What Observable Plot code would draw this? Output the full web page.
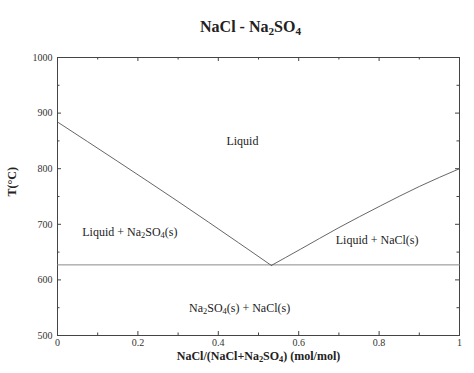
<!DOCTYPE html>
<html>
<head>
<meta charset="utf-8">
<script src="https://cdn.jsdelivr.net/npm/d3@7"></script>
<script src="https://cdn.jsdelivr.net/npm/@observablehq/plot@0.6"></script>
<style>
  html, body { margin: 0; padding: 0; background: #fff; }
  #chart { width: 474px; height: 373px; }
</style>
</head>
<body>
<div id="chart"></div>
<script>
// ---- data ----
const leftLiquidusX = [0, 0.15, 0.3, 0.45, 0.532];
const leftLiquidusT = [884, 813, 741, 667, 626];
const rightLiquidusX = [0.532, 0.604, 0.7, 0.803, 0.9, 1];
const rightLiquidusT = [626, 655, 694, 733, 768, 800];
const eutecticX = [0, 1];
const eutecticT = [627, 627];

const regionLabels = ["Liquid", "Liquid + Na₂SO₄(s)", "Liquid + NaCl(s)", "Na₂SO₄(s) + NaCl(s)"];
const regionX = [0.46, 0.18, 0.795, 0.453];
const regionT = [849, 686, 671, 549];

const xMajor = [0, 0.2, 0.4, 0.6, 0.8, 1];
const xMinor = [0.1, 0.3, 0.5, 0.7, 0.9];
const yMajor = [500, 600, 700, 800, 900, 1000];
const yMinor = [550, 650, 750, 850, 950];

const title = "NaCl - Na₂SO₄";
const xLabel = "NaCl/(NaCl+Na₂SO₄) (mol/mol)";
const yLabel = "T(°C)";

// ---- build ----
const W = 474, H = 373, mL = 57, mR = 15, mT = 57, mB = 38;
const fw = W - mL - mR, fh = H - mT - mB;
const toPts = (xs, ts) => xs.map((x, i) => ({x, t: ts[i]}));
const axisColor = "#444";

const chart = Plot.plot({
  width: W, height: H,
  marginLeft: mL, marginRight: mR, marginTop: mT, marginBottom: mB,
  style: {fontFamily: "'Liberation Serif', 'Times New Roman', serif", fontSize: "10px", color: "#333", background: "#fff"},
  x: {domain: [0, 1]},
  y: {domain: [500, 1000]},
  marks: [
    Plot.frame({stroke: axisColor, strokeWidth: 1}),
    // inward ticks, all four sides
    Plot.tickX(xMajor, {x: d => d, insetTop: fh - 4, stroke: axisColor}),
    Plot.tickX(xMajor, {x: d => d, insetBottom: fh - 4, stroke: axisColor}),
    Plot.tickX(xMinor, {x: d => d, insetTop: fh - 2.5, stroke: axisColor}),
    Plot.tickX(xMinor, {x: d => d, insetBottom: fh - 2.5, stroke: axisColor}),
    Plot.tickY(yMajor, {y: d => d, insetRight: fw - 4, stroke: axisColor}),
    Plot.tickY(yMajor, {y: d => d, insetLeft: fw - 4, stroke: axisColor}),
    Plot.tickY(yMinor, {y: d => d, insetRight: fw - 2.5, stroke: axisColor}),
    Plot.tickY(yMinor, {y: d => d, insetLeft: fw - 2.5, stroke: axisColor}),
    Plot.axisX({ticks: xMajor, tickSize: 0, tickPadding: 3, label: null,
      tickFormat: d => (d === 0 || d === 1) ? String(d) : d.toFixed(1), fill: "#333"}),
    Plot.axisY({ticks: yMajor, tickSize: 0, tickPadding: 5, label: null,
      tickFormat: d => String(d), fill: "#333"}),
    // phase boundaries
    Plot.line(toPts(eutecticX, eutecticT), {x: "x", y: "t", stroke: "#8a8a8a", strokeWidth: 1}),
    Plot.line(toPts(leftLiquidusX, leftLiquidusT), {x: "x", y: "t", stroke: "#555", strokeWidth: 0.9, curve: "monotone-x"}),
    Plot.line(toPts(rightLiquidusX, rightLiquidusT), {x: "x", y: "t", stroke: "#555", strokeWidth: 0.9, curve: "monotone-x"}),
    // region labels
    Plot.text(regionLabels, {x: (d, i) => regionX[i], y: (d, i) => regionT[i], text: d => d,
      fontSize: 12, fill: "#222"}),
    // titles
    Plot.text([title], {frameAnchor: "top", lineAnchor: "middle", dy: -31, dx: -8, text: d => d,
      fontSize: 16, fontWeight: "bold", fill: "#222"}),
    Plot.text([xLabel], {frameAnchor: "bottom", lineAnchor: "middle", dy: 21, text: d => d,
      fontSize: 12, fontWeight: "bold", fill: "#222"}),
    Plot.text([yLabel], {frameAnchor: "left", lineAnchor: "middle", dx: -45, rotate: -90, text: d => d,
      fontSize: 12, fontWeight: "bold", fill: "#222"})
  ]
});

// turn unicode subscripts into real subscript tspans
const subMap = {"₂": "2", "₄": "4"};
chart.querySelectorAll("text").forEach(t => {
  if (t.querySelector("tspan")) return;
  const s = t.textContent;
  if (!/[₂₄]/.test(s)) return;
  t.textContent = "";
  const ns = "http://www.w3.org/2000/svg";
  let buf = "";
  const flush = () => { if (buf) { const sp = document.createElementNS(ns, "tspan"); sp.textContent = buf; t.appendChild(sp); buf = ""; } };
  for (const ch of s) {
    if (subMap[ch]) {
      flush();
      const sp = document.createElementNS(ns, "tspan");
      sp.textContent = subMap[ch];
      sp.setAttribute("font-size", "0.7em");
      sp.setAttribute("baseline-shift", "-25%");
      t.appendChild(sp);
    } else buf += ch;
  }
  flush();
});

document.getElementById("chart").appendChild(chart);
</script>
</body>
</html>
